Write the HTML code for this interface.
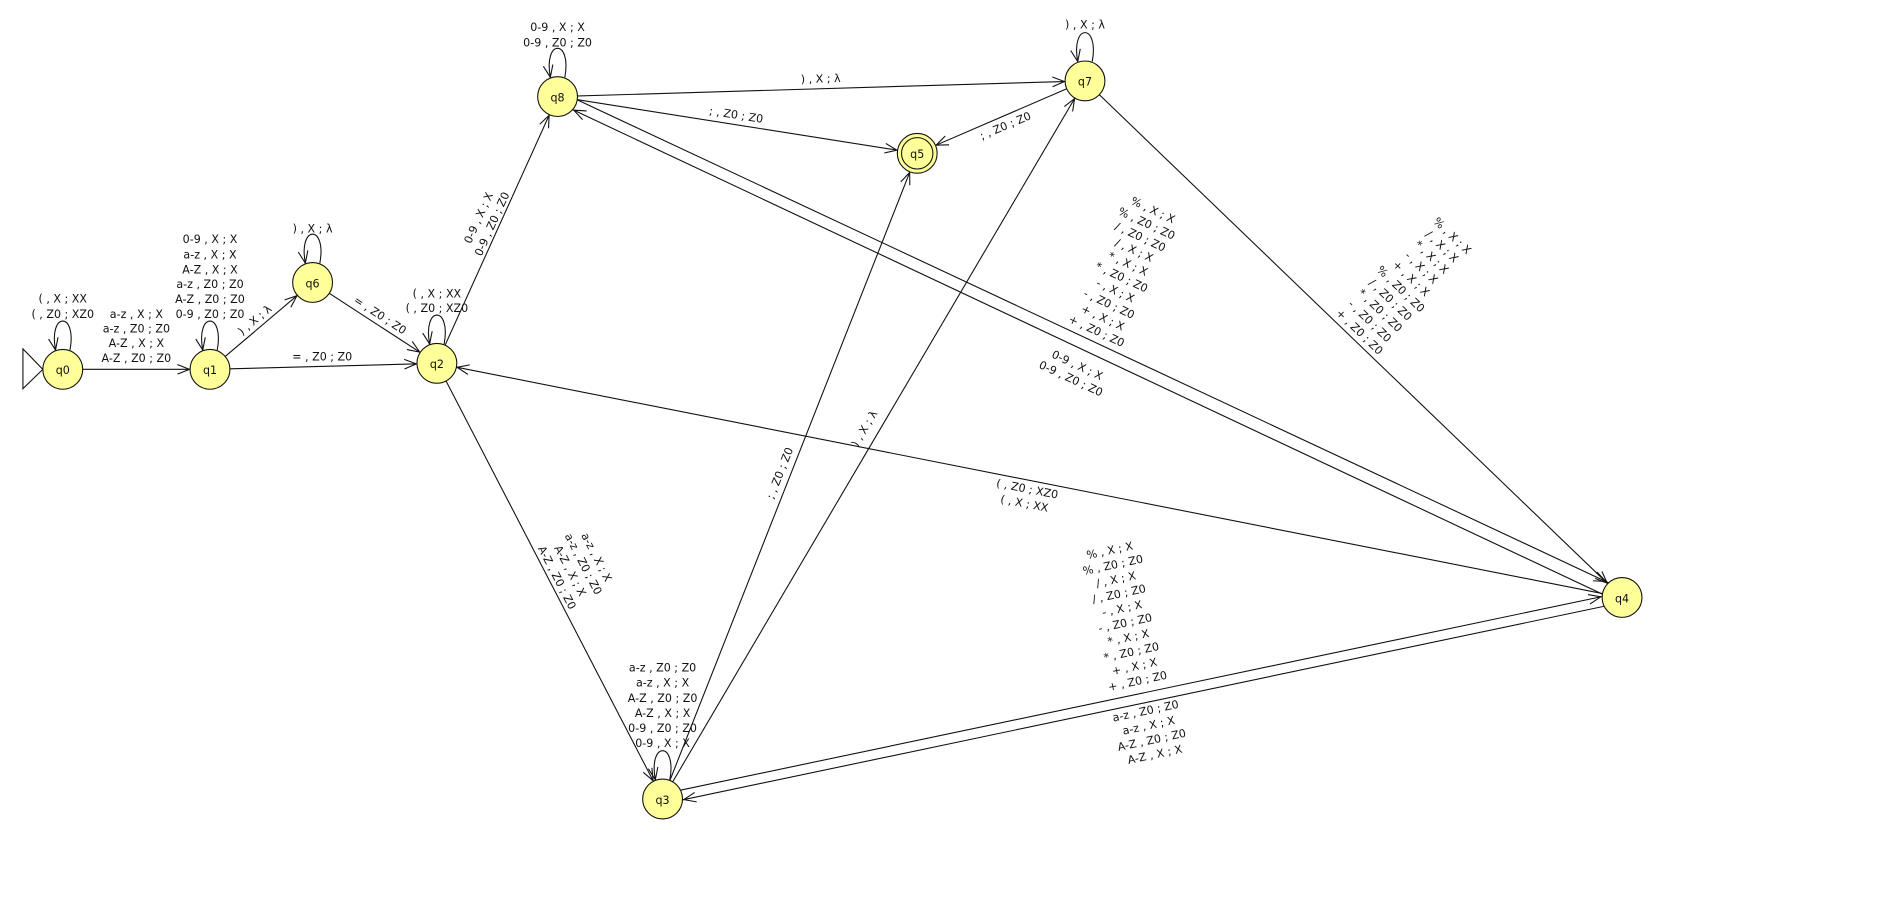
<!DOCTYPE html>
<html><head><meta charset="utf-8"><style>
html,body{margin:0;padding:0;background:#fff;}
svg{display:block;}
text{font-family:"DejaVu Sans","Liberation Sans",sans-serif;font-size:9.2px;fill:#111;text-anchor:middle;}
</style></head><body>
<svg width="1893" height="898" viewBox="0 0 1568.5 744" xmlns="http://www.w3.org/2000/svg">
<defs>
<marker id="a" markerUnits="userSpaceOnUse" markerWidth="40" markerHeight="20" refX="27" refY="4" orient="auto" overflow="visible">
<path d="M0,0 L10,4 L0,8" fill="none" stroke="#111" stroke-width="0.9"/></marker>
<marker id="l" markerUnits="userSpaceOnUse" markerWidth="20" markerHeight="20" refX="10" refY="4" orient="auto-start-reverse" overflow="visible">
<path d="M0,0 L10,4 L0,8" fill="none" stroke="#111" stroke-width="0.9"/></marker>
</defs>
<g stroke="#111" stroke-width="0.9" fill="none">
<line x1="52" y1="306" x2="174" y2="306" marker-end="url(#a)"/>
<line x1="174" y1="306" x2="259" y2="234" marker-end="url(#a)"/>
<line x1="174" y1="306" x2="362" y2="301" marker-end="url(#a)"/>
<line x1="259" y1="234" x2="362" y2="301" marker-end="url(#a)"/>
<line x1="362" y1="301" x2="462" y2="80" marker-end="url(#a)"/>
<line x1="362" y1="301" x2="549" y2="662" marker-end="url(#a)"/>
<line x1="462" y1="80" x2="899" y2="67" marker-end="url(#a)"/>
<line x1="462" y1="80" x2="760" y2="127" marker-end="url(#a)"/>
<line x1="899" y1="67" x2="760" y2="127" marker-end="url(#a)"/>
<line x1="899" y1="67" x2="1344" y2="495" marker-end="url(#a)"/>
<line x1="464" y1="76" x2="1346" y2="489" marker-end="url(#a)"/>
<line x1="1342" y1="499" x2="460" y2="84" marker-end="url(#a)"/>
<line x1="1344" y1="495" x2="362" y2="301" marker-end="url(#a)"/>
<line x1="549" y1="662" x2="760" y2="127" marker-end="url(#a)"/>
<line x1="549" y1="662" x2="899" y2="67" marker-end="url(#a)"/>
<line x1="548" y1="658" x2="1343" y2="491" marker-end="url(#a)"/>
<line x1="1345" y1="499" x2="550" y2="666" marker-end="url(#a)"/>
<!-- loops -->
<path d="M46,290 C40,258 64,258 58,290" marker-start="url(#l)"/>
<path d="M168,290 C162,258 186,258 180,290" marker-start="url(#l)"/>
<path d="M253,218 C247,186 271,186 265,218" marker-start="url(#l)"/>
<path d="M356,285 C350,253 374,253 368,285" marker-start="url(#l)"/>
<path d="M456,64 C450,32 474,32 468,64" marker-start="url(#l)"/>
<path d="M893,51 C887,19 911,19 905,51" marker-start="url(#l)"/>
<path d="M543,646 C537,614 561,614 555,646" marker-start="url(#l)"/>
<!-- initial -->
<path d="M19,289 L19,322 L35.5,306 Z" fill="#fff"/>
</g>
<g stroke="#111" stroke-width="0.9" fill="#ffff99">
<circle cx="52" cy="306" r="16.5"/>
<circle cx="174" cy="306" r="16.5"/>
<circle cx="259" cy="234" r="16.5"/>
<circle cx="362" cy="301" r="16.5"/>
<circle cx="462" cy="80" r="16.5"/>
<circle cx="760" cy="127" r="16.5"/>
<circle cx="760" cy="127" r="13" fill="none"/>
<circle cx="899" cy="67" r="16.5"/>
<circle cx="1344" cy="495" r="16.5"/>
<circle cx="549" cy="662" r="16.5"/>
</g>
<g style="font-size:10.5px">
<text x="52" y="310">q0</text><text x="174" y="310">q1</text><text x="259" y="238">q6</text>
<text x="362" y="305">q2</text><text x="462" y="84">q8</text><text x="760" y="131">q5</text>
<text x="899" y="71">q7</text><text x="1344" y="499">q4</text><text x="549" y="666">q3</text>
</g>
<!-- loop labels -->
<text x="52" y="250.5">( , X ; XX</text><text x="52" y="263.5">( , Z0 ; XZ0</text>
<text x="174" y="201.5">0-9 , X ; X</text><text x="174" y="214">a-z , X ; X</text><text x="174" y="226.5">A-Z , X ; X</text>
<text x="174" y="238.5">a-z , Z0 ; Z0</text><text x="174" y="251">A-Z , Z0 ; Z0</text><text x="174" y="263.5">0-9 , Z0 ; Z0</text>
<text x="259" y="192.5">) , X ; λ</text>
<text x="362" y="246.5">( , X ; XX</text><text x="362" y="258.5">( , Z0 ; XZ0</text>
<text x="462" y="25.5">0-9 , X ; X</text><text x="462" y="38.5">0-9 , Z0 ; Z0</text>
<text x="899" y="23.5">) , X ; λ</text>
<text x="549" y="556.5">a-z , Z0 ; Z0</text><text x="549" y="569">a-z , X ; X</text><text x="549" y="581.5">A-Z , Z0 ; Z0</text>
<text x="549" y="594">A-Z , X ; X</text><text x="549" y="606.5">0-9 , Z0 ; Z0</text><text x="549" y="619">0-9 , X ; X</text>
<!-- edge labels -->
<text x="113" y="263.5">a-z , X ; X</text><text x="113" y="275.5">a-z , Z0 ; Z0</text><text x="113" y="287.5">A-Z , X ; X</text><text x="113" y="300">A-Z , Z0 ; Z0</text>
<text x="267" y="298.5">= , Z0 ; Z0</text>
<text transform="translate(211 265) rotate(-40)" y="3.3">) , X ; λ</text>
<text transform="translate(315 261) rotate(33)" y="3.3">= , Z0 ; Z0</text>
<text transform="translate(402 183) rotate(-65.7)"><tspan x="0" y="-2.9">0-9 , X ; X</tspan><tspan x="0" y="9.4">0-9 , Z0 ; Z0</tspan></text>
<text transform="translate(680 65) rotate(-1.7)" y="3.3">) , X ; λ</text>
<text transform="translate(610 95) rotate(9)" y="3.3">; , Z0 ; Z0</text>
<text transform="translate(833 104) rotate(-23)" y="3.3">; , Z0 ; Z0</text>
<text transform="translate(478 470) rotate(62.6)"><tspan x="0" y="-15.2">a-z , X ; X</tspan><tspan x="0" y="-2.9">a-z , Z0 ; Z0</tspan><tspan x="0" y="9.4">A-Z , X ; X</tspan><tspan x="0" y="21.7">A-Z , Z0 ; Z0</tspan></text>
<text transform="translate(646 392) rotate(-68.5)" y="3.3">; , Z0 ; Z0</text>
<text transform="translate(716 355) rotate(-59.5)" y="3.3">) , X ; λ</text>
<text transform="translate(850 411) rotate(11)"><tspan x="0" y="-2.9">( , Z0 ; XZ0</tspan><tspan x="0" y="9.4">( , X ; XX</tspan></text>
<text transform="translate(890 308) rotate(25)"><tspan x="0" y="-2.9">0-9 , X ; X</tspan><tspan x="0" y="9.4">0-9 , Z0 ; Z0</tspan></text>
<text transform="translate(932 224) rotate(25)"><tspan x="0" y="-52">% , X ; X</tspan><tspan x="0" y="-39.7">% , Z0 ; Z0</tspan><tspan x="0" y="-27.4">/ , Z0 ; Z0</tspan><tspan x="0" y="-15.2">/ , X ; X</tspan><tspan x="0" y="-2.9">* , X ; X</tspan><tspan x="0" y="9.4">* , Z0 ; Z0</tspan><tspan x="0" y="21.7">- , X ; X</tspan><tspan x="0" y="34">- , Z0 ; Z0</tspan><tspan x="0" y="46.3">+ , X ; X</tspan><tspan x="0" y="58.6">+ , Z0 ; Z0</tspan></text>
<text transform="translate(1165 235) rotate(44)"><tspan x="0" y="-52">% , X ; X</tspan><tspan x="0" y="-39.7">/ , X ; X</tspan><tspan x="0" y="-27.4">* , X ; X</tspan><tspan x="0" y="-15.2">- , X ; X</tspan><tspan x="0" y="-2.9">+ , X ; X</tspan><tspan x="0" y="9.4">% , Z0 ; Z0</tspan><tspan x="0" y="21.7">/ , Z0 ; Z0</tspan><tspan x="0" y="34">* , Z0 ; Z0</tspan><tspan x="0" y="46.3">- , Z0 ; Z0</tspan><tspan x="0" y="58.6">+ , Z0 ; Z0</tspan></text>
<text transform="translate(931 510) rotate(-12)"><tspan x="0" y="-52">% , X ; X</tspan><tspan x="0" y="-39.7">% , Z0 ; Z0</tspan><tspan x="0" y="-27.4">/ , X ; X</tspan><tspan x="0" y="-15.2">/ , Z0 ; Z0</tspan><tspan x="0" y="-2.9">- , X ; X</tspan><tspan x="0" y="9.4">- , Z0 ; Z0</tspan><tspan x="0" y="21.7">* , X ; X</tspan><tspan x="0" y="34">* , Z0 ; Z0</tspan><tspan x="0" y="46.3">+ , X ; X</tspan><tspan x="0" y="58.6">+ , Z0 ; Z0</tspan></text>
<text transform="translate(953 607) rotate(-12)"><tspan x="0" y="-15.2">a-z , Z0 ; Z0</tspan><tspan x="0" y="-2.9">a-z , X ; X</tspan><tspan x="0" y="9.4">A-Z , Z0 ; Z0</tspan><tspan x="0" y="21.7">A-Z , X ; X</tspan></text>
</svg>
</body></html>
